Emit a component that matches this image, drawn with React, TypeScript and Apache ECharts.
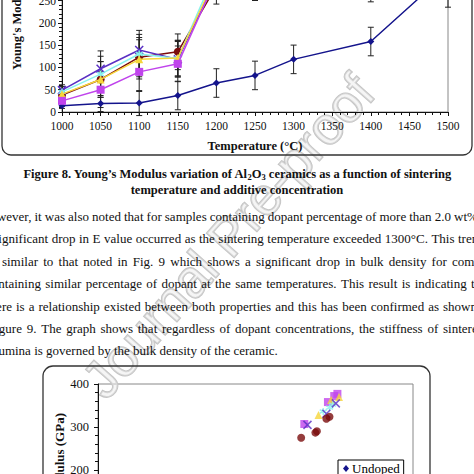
import * as echarts from "echarts";
import { useEffect, useRef } from "react";

// Figure 8: Young's modulus vs sintering temperature
const temps = [1000, 1050, 1100, 1150, 1200, 1250, 1300, 1400, 1500];
const undoped = [14, 19, 20, 37, 65, 82, 118, 158, 314];
const wt05 = [25, 50, 90, 108, 300, 338, 356, 372, 377];
const wt10 = [40, 73, 118, 121, 305, 330, 352, 366, 370];
const wt15 = [45, 85, 130, 120, 318, 336, 345, 355, 350];
const wt20 = [49, 97, 139, 118, 300, 318, 331, 355, 353];
const wt25 = [38, 73, 123, 135, 282, 290, 324, 287, 275];
const undopedErr = [6, 18, 28, 32, 32, 32, 32, 32, 38];
const dopedErr = [12, 40, 44, 40, 40, 40, 40, 40, 40];

// Figure 9: Young's modulus vs bulk density
const densUndoped = [[2.45, 14], [2.5, 19], [2.55, 20], [2.7, 37], [2.9, 65], [3.0, 82], [3.1, 118], [3.2, 158]];
const dens05 = [[3.31, 307], [3.46, 358], [3.5, 372], [3.52, 377]];
const dens10 = [[3.4, 328], [3.48, 363], [3.53, 370]];
const dens15 = [[3.43, 336], [3.47, 345], [3.49, 352]];
const dens20 = [[3.33, 305], [3.45, 331], [3.51, 355]];
const dens25 = [[3.29, 275], [3.38, 287], [3.39, 290], [3.45, 319], [3.47, 324]];

const names = ["Undoped", "0.5 wt%", "1.0 wt%", "1.5 wt%", "2.0 wt%", "2.5 wt%"];
const colors = ["#14148c", "#c044ec", "#f6d63a", "#86f2ee", "#5a30c4", "#7a0c0c"];
const symbols = [
  "diamond",
  "rect",
  "triangle",
  "path://M5,0L5,10M0,2.5L10,7.5M10,2.5L0,7.5",
  "path://M0,0L10,10M10,0L0,10",
  "circle",
];
const symbolSizes = [7, 8, 8, 7, 8, 8];

// [text, x of first word, x of last word (null = not justified)]
const bodyLines: [string, number, number | null][] = [
  ["However, it was also noted that for samples containing dopant percentage of more than 2.0 wt%", -19, 454],
  ["a significant drop in E value occurred as the sintering temperature exceeded 1300°C. This trend", -16, 458],
  ["is similar to that noted in Fig. 9 which shows a significant drop in bulk density for compacts", -12, 452],
  ["containing similar percentage of dopant at the same temperatures. This result is indicating that", -14, 471],
  ["there is a relationship existed between both properties and this has been confirmed as shown", -14, 443],
  ["Figure 9. The graph shows that regardless of dopant concentrations, the stiffness of sintered", -12, 443],
  ["alumina is governed by the bulk density of the ceramic.", -11, null],
];

const SERIF = "'Liberation Serif', 'Times New Roman', serif";
// the chart div starts above the page so that the clipped parts of the plots can be laid out
const OFF = 100;

function bodyWords() {
  const ctx = document.createElement("canvas").getContext("2d")!;
  ctx.font = `13px ${SERIF}`;
  const out: any[] = [];
  bodyLines.forEach(([line, x0, xLast], i) => {
    const y = OFF + 216.5 + i * 22.4;
    const words = line.split(" ");
    const widths = words.map((w) => ctx.measureText(w).width);
    let gap = ctx.measureText(" ").width;
    if (xLast !== null) {
      const used = widths.slice(0, -1).reduce((s, w) => s + w, 0);
      gap = (xLast - x0 - used) / (words.length - 1);
    }
    let x = x0;
    words.forEach((w, k) => {
      out.push({
        type: "text",
        x,
        y,
        z: 100,
        style: { text: w, fontFamily: SERIF, fontSize: 13, fill: "#111", verticalAlign: "middle" },
      });
      x += widths[k] + gap;
    });
  });
  return out;
}

function errorBars(values: number[], errs: number[]) {
  return {
    type: "custom",
    xAxisIndex: 0,
    yAxisIndex: 0,
    silent: true,
    z: 1,
    data: temps.map((t, i) => [t, values[i] - errs[i], values[i] + errs[i]]),
    encode: { x: 0, y: [1, 2] },
    renderItem: (_params: any, api: any) => {
      const lo = api.coord([api.value(0), api.value(1)]);
      const hi = api.coord([api.value(0), api.value(2)]);
      const style = { stroke: "#222", lineWidth: 1 };
      return {
        type: "group",
        children: [
          { type: "line", shape: { x1: lo[0], y1: lo[1], x2: hi[0], y2: hi[1] }, style },
          { type: "line", shape: { x1: lo[0] - 3, y1: lo[1], x2: lo[0] + 3, y2: lo[1] }, style },
          { type: "line", shape: { x1: hi[0] - 3, y1: hi[1], x2: hi[0] + 3, y2: hi[1] }, style },
        ],
      };
    },
  };
}

export default function App() {
  const chartRef = useRef<HTMLDivElement>(null);

  useEffect(() => {
    if (!chartRef.current) return;
    const chart = echarts.init(chartRef.current, undefined, { renderer: "svg" });

    const lineData = [undoped, wt05, wt10, wt15, wt20, wt25];
    const scatterData = [densUndoped, dens05, dens10, dens15, dens20, dens25];
    const errData = [undopedErr, dopedErr, dopedErr, dopedErr, dopedErr, dopedErr];

    const axisLine = { lineStyle: { color: "#111", width: 1 } };
    const tick = { show: true, length: 4, lineStyle: { color: "#111" } };
    const minor = { show: true, splitNumber: 5, length: 3, lineStyle: { color: "#111" } };
    const capStyle = { fontFamily: SERIF, fontSize: 12.5, fontWeight: "bold" as const, fill: "#111" };

    chart.setOption({
      animation: false,
      backgroundColor: "#fff",
      grid: [
        { left: 62, top: OFF - 66.4, width: 386, height: 178.4, show: true, borderColor: "#888", borderWidth: 1 },
        { left: 98, top: OFF + 384, width: 315, height: 172, show: true, borderColor: "#888", borderWidth: 1 },
      ],
      xAxis: [
        {
          gridIndex: 0,
          type: "value",
          min: 1000,
          max: 1500,
          interval: 50,
          axisLine,
          axisTick: tick,
          minorTick: minor,
          splitLine: { show: false },
          axisLabel: { fontFamily: SERIF, fontSize: 11.5, color: "#111", margin: 8, formatter: (v: number) => String(v) },
          name: "Temperature (°C)",
          nameLocation: "middle",
          nameGap: 27,
          nameTextStyle: { fontFamily: SERIF, fontSize: 12.5, fontWeight: "bold", color: "#111" },
        },
        {
          gridIndex: 1,
          type: "value",
          min: 2,
          max: 4,
          interval: 0.5,
          axisLine,
          axisTick: tick,
          splitLine: { show: false },
          axisLabel: { fontFamily: SERIF, fontSize: 12.5, color: "#111" },
        },
      ],
      yAxis: [
        {
          gridIndex: 0,
          type: "value",
          min: 0,
          max: 400,
          interval: 50,
          axisLine: { show: true, ...axisLine },
          axisTick: tick,
          minorTick: minor,
          splitLine: { show: false },
          axisLabel: { fontFamily: SERIF, fontSize: 11.5, color: "#111", margin: 6 },
        },
        {
          gridIndex: 1,
          type: "value",
          min: 0,
          max: 400,
          interval: 100,
          axisLine: { show: true, ...axisLine },
          axisTick: tick,
          minorTick: minor,
          splitLine: { show: false },
          axisLabel: { fontFamily: SERIF, fontSize: 12.5, color: "#111", margin: 9 },
        },
      ],
      legend: {
        orient: "vertical",
        left: 338,
        top: OFF + 460,
        backgroundColor: "#fff",
        borderColor: "#000",
        borderWidth: 1,
        padding: [2, 4, 2, 4],
        itemGap: 3,
        itemWidth: 6,
        itemHeight: 7,
        textStyle: { fontFamily: SERIF, fontSize: 13, color: "#000", padding: [0, 0, 0, -2] },
        data: names.map((n, i) => ({ name: n, icon: symbols[i] })),
      },
      series: [
        ...errData.map((e, i) => errorBars(lineData[i], e)),
        ...lineData.map((d, i) => ({
          name: names[i],
          type: "line",
          xAxisIndex: 0,
          yAxisIndex: 0,
          z: 3 + (i === 0 ? 0 : 6 - i),
          data: temps.map((t, k) => [t, d[k]]),
          symbol: symbols[i],
          symbolSize: symbolSizes[i],
          lineStyle: { color: colors[i], width: 1.5 },
          itemStyle: { color: colors[i], borderColor: colors[i], borderWidth: i === 3 || i === 4 ? 1.5 : 0 },
        })),
        ...scatterData.map((d, i) => ({
          name: names[i],
          type: "scatter",
          xAxisIndex: 1,
          yAxisIndex: 1,
          data: d,
          symbol: symbols[i],
          symbolSize: symbolSizes[i],
          itemStyle: { color: colors[i], borderColor: colors[i], borderWidth: i === 3 || i === 4 ? 1.5 : 0 },
        })),
      ],
      graphic: [
        {
          type: "text",
          x: 228,
          y: OFF + 236,
          rotation: (48.5 * Math.PI) / 180,
          z: 0,
          silent: true,
          style: {
            text: "Journal Pre-proof",
            fontFamily: "'Liberation Sans', Arial, sans-serif",
            fontSize: 53,
            fill: "rgba(235,235,235,0.5)",
            stroke: "#c4c4c4",
            lineWidth: 1.8,
            align: "center",
            verticalAlign: "middle",
          },
        },
        {
          type: "rect",
          z: 50,
          silent: true,
          shape: { x: 2, y: OFF - 20, width: 470, height: 175, r: 9 },
          style: { fill: "none", stroke: "#333", lineWidth: 1.3 },
        },
        {
          type: "rect",
          z: 50,
          silent: true,
          shape: { x: 43, y: OFF + 366, width: 387, height: 200, r: 10 },
          style: { fill: "none", stroke: "#333", lineWidth: 1.3 },
        },
        {
          type: "text",
          x: 17,
          y: OFF + 70,
          rotation: Math.PI / 2,
          z: 100,
          style: { text: "Young's Modulus (GPa)", ...capStyle, align: "left", verticalAlign: "middle" },
        },
        {
          type: "text",
          x: 59,
          y: OFF + 413,
          rotation: Math.PI / 2,
          z: 100,
          style: { text: "Young's Modulus (GPa)", ...capStyle, fontSize: 13, align: "right", verticalAlign: "middle" },
        },
        {
          type: "text",
          x: 237,
          y: OFF + 174,
          z: 100,
          style: {
            text: "{a|Figure 8. Young’s Modulus variation of Al}{s|2}{a|O}{s|3}{a| ceramics as a function of sintering}",
            align: "center",
            verticalAlign: "middle",
            rich: {
              a: { ...capStyle, lineHeight: 15 },
              s: { ...capStyle, fontSize: 8.5, lineHeight: 15, verticalAlign: "bottom", padding: [4, 0, 0, 0] },
            },
          },
        },
        {
          type: "text",
          x: 237,
          y: OFF + 189.5,
          z: 100,
          style: { text: "temperature and additive concentration", ...capStyle, align: "center", verticalAlign: "middle" },
        },
        ...bodyWords(),
      ],
    });

    return () => {
      chart.dispose();
    };
  }, []);

  return (
    <div
      ref={chartRef}
      style={{ position: "fixed", left: 0, top: -OFF + "px", width: "474px", height: 474 + OFF + 260 + "px" }}
    />
  );
}
